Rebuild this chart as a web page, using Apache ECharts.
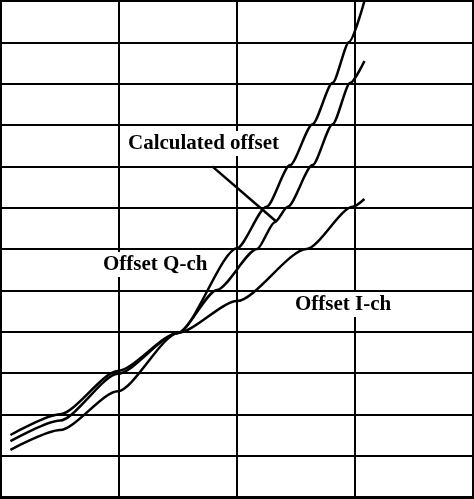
<!DOCTYPE html>
<html><head><meta charset="utf-8">
<script src="https://cdn.jsdelivr.net/npm/echarts@6/dist/echarts.min.js"></script>
<style>html,body{margin:0;padding:0;background:#fff}#chart{width:474px;height:499px}</style>
</head><body><div id="chart"></div>
<script>
// data (x: grid columns, y: grid rows)
var offsetQ = [[0.08,1.14],[0.5,1.62],[0.99,2.56],[1.5,3.97],[2.0,6.02],[2.25,7.02],[2.45,8.03],[2.64,9.02],[2.81,10.02],[2.95,11.01],[3.08,12.0]];
var calcOffset = [[0.08,1.35],[0.5,1.85],[0.99,2.98],[1.5,3.97],[1.83,5.01],[2.17,6.0],[2.32,6.65],[2.43,7.02],[2.64,8.03],[2.81,9.02],[2.96,10.02],[3.08,10.55]];
var offsetI = [[0.08,1.5],[0.5,2.0],[0.99,3.05],[1.5,3.97],[2.0,4.74],[2.59,6.0],[2.98,7.02],[3.08,7.21]];
var pointer = [[1.79,8.0],[2.33,6.67]];

var dom = document.getElementById('chart');
var myChart = echarts.init(dom);
var lineStyle = {color:'#000',width:2.5};
var font = '"Liberation Serif", serif';
function curve(name,data){
	return {name:name,type:'line',smooth:0.25,smoothMonotone:'x',symbol:'none',data:data,lineStyle:lineStyle,z:3};
}
var option = {
	animation:false,
	grid:{left:1,right:1,top:1,bottom:2},
	xAxis:{type:'value',min:0,max:4,interval:1,
		axisLine:{show:false},axisTick:{show:false},axisLabel:{show:false},
		splitLine:{lineStyle:{color:'#000',width:2}}},
	yAxis:{type:'value',min:0,max:12,interval:1,
		axisLine:{show:false},axisTick:{show:false},axisLabel:{show:false},
		splitLine:{lineStyle:{color:'#000',width:2}}},
	series:[
		curve('Offset Q-ch',offsetQ),
		curve('Calculated offset',calcOffset),
		curve('Offset I-ch',offsetI),
		{type:'line',symbol:'none',data:pointer,lineStyle:lineStyle,z:3}
	],
	graphic:[
		{type:'rect',left:0,top:0,shape:{width:474,height:2},style:{fill:'#aaa'}},
		{type:'rect',left:0,top:0,shape:{width:2,height:499},style:{fill:'#000'}},
		{type:'rect',right:0,top:0,shape:{width:2,height:499},style:{fill:'#000'}},
		{type:'rect',left:0,bottom:0,shape:{width:474,height:3},style:{fill:'#000'}},
		{type:'text',left:125,top:131,z:10,style:{text:'Calculated offset',font:'bold 21px '+font,fill:'#000',backgroundColor:'#fff',padding:[2,3]}},
		{type:'text',left:100,top:252,z:10,style:{text:'Offset Q-ch',font:'bold 21px '+font,fill:'#000',backgroundColor:'#fff',padding:[2,3]}},
		{type:'text',left:292,top:292,z:10,style:{text:'Offset I-ch',font:'bold 21px '+font,fill:'#000',backgroundColor:'#fff',padding:[2,3]}}
	]
};
myChart.setOption(option);
</script></body></html>
